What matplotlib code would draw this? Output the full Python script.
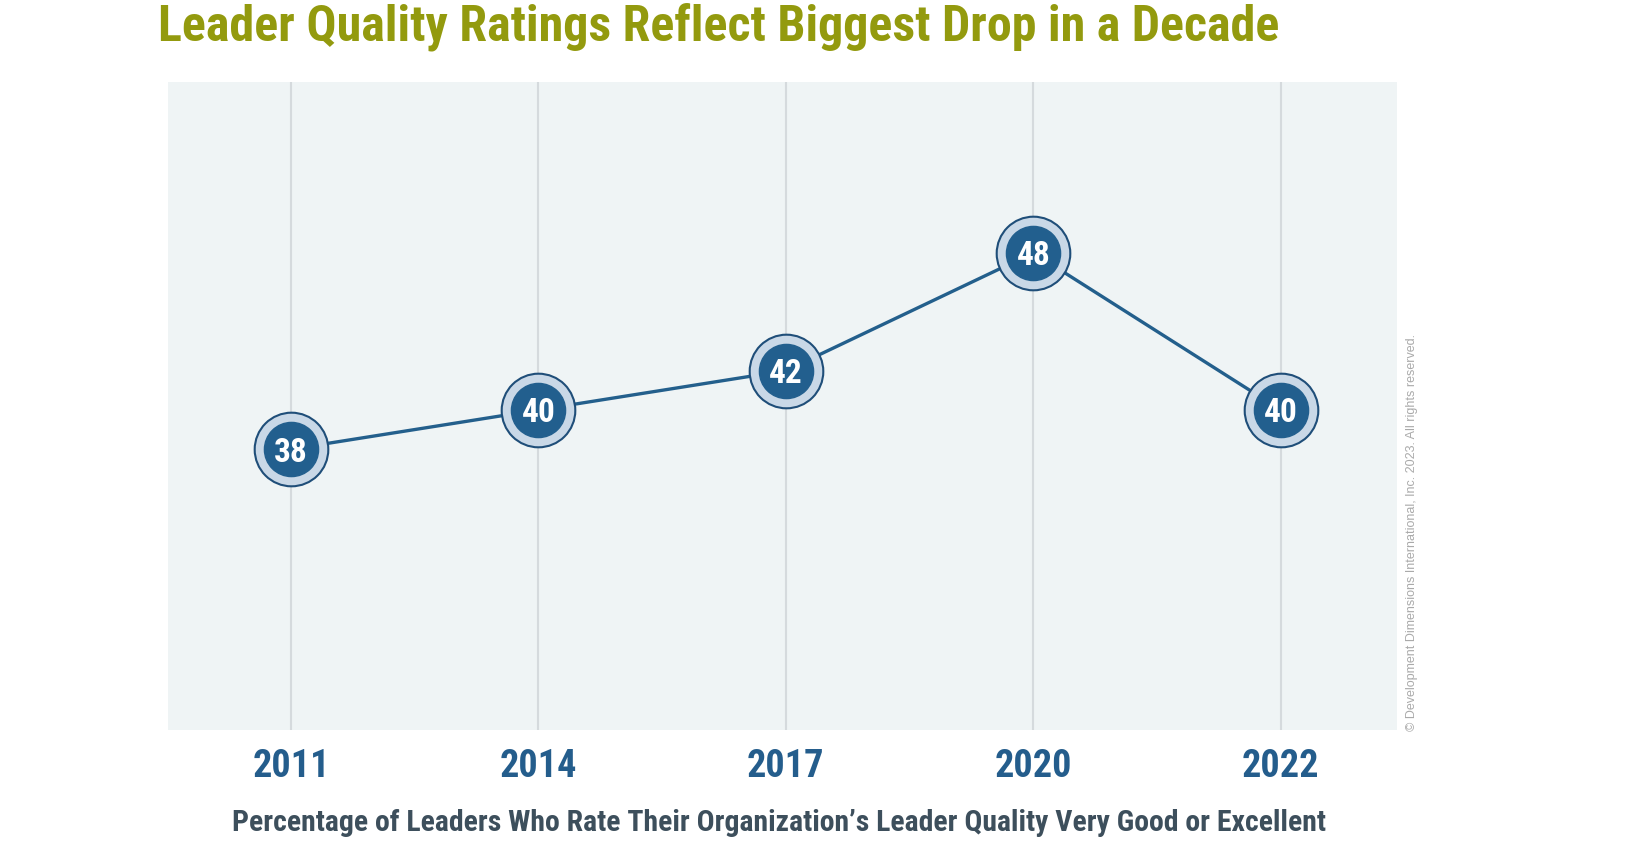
import matplotlib.pyplot as plt

years = ["2011", "2014", "2017", "2020", "2022"]
values = [38, 40, 42, 48, 40]

title = "Leader Quality Ratings Reflect Biggest Drop in a Decade"
subtitle = "Percentage of Leaders Who Rate Their Organization\u2019s Leader Quality Very Good or Excellent"
note = "\u00a9 Development Dimensions International, Inc. 2023. All rights reserved."

# narrow bold face, close to the Arial Narrow of the original
plt.rcParams['font.family'] = ['Roboto Condensed', 'PT Sans Narrow', 'Liberation Sans', 'DejaVu Sans']

fig = plt.figure(figsize=(16.49, 8.64), dpi=100)
ax = fig.add_axes([0.1019, 0.1551, 0.7453, 0.75])
ax.set_facecolor('#eff4f5')

x = list(range(len(years)))
for xi in x:
    ax.axvline(xi, color='#d5dadd', lw=1.5, zorder=1)

ax.plot(x, values, color='#235f8c', lw=2.4, zorder=2)
ax.plot(x, values, 'o', ms=53, mfc='#c9d8e7', mec='#1f4e79', mew=1.5, zorder=3)
ax.plot(x, values, 'o', ms=39, mfc='#225f8e', mec='#225f8e', zorder=4)
for xi, v in zip(x, values):
    ax.text(xi, v, str(v), color='white', fontsize=24, fontweight='bold',
            ha='center', va='center_baseline', zorder=5)

ax.set_xlim(-0.497, 4.47)
ax.set_ylim(23.7, 56.7)
ax.set_xticks(x)
ax.set_xticklabels(years, fontsize=27.5, fontweight='bold', color='#245d8c')
ax.tick_params(axis='x', length=0, pad=13)
ax.set_yticks([])
for s in ax.spines.values():
    s.set_visible(False)

fig.text(0.0958, 0.9537, title, fontsize=36, fontweight='bold', color='#939a0e',
         ha='left', va='baseline')
fig.text(0.4725, 1 - 823 / 864, subtitle, fontsize=21.4, fontweight='bold',
         color='#3d4f5c', ha='center', va='center')
fig.text(1412 / 1649, 1 - 731 / 864, note, fontsize=9, color='#aaaaaa',
         rotation=90, ha='center', va='bottom', family=['Liberation Sans', 'DejaVu Sans'])

fig.savefig('out.png', dpi=100)
